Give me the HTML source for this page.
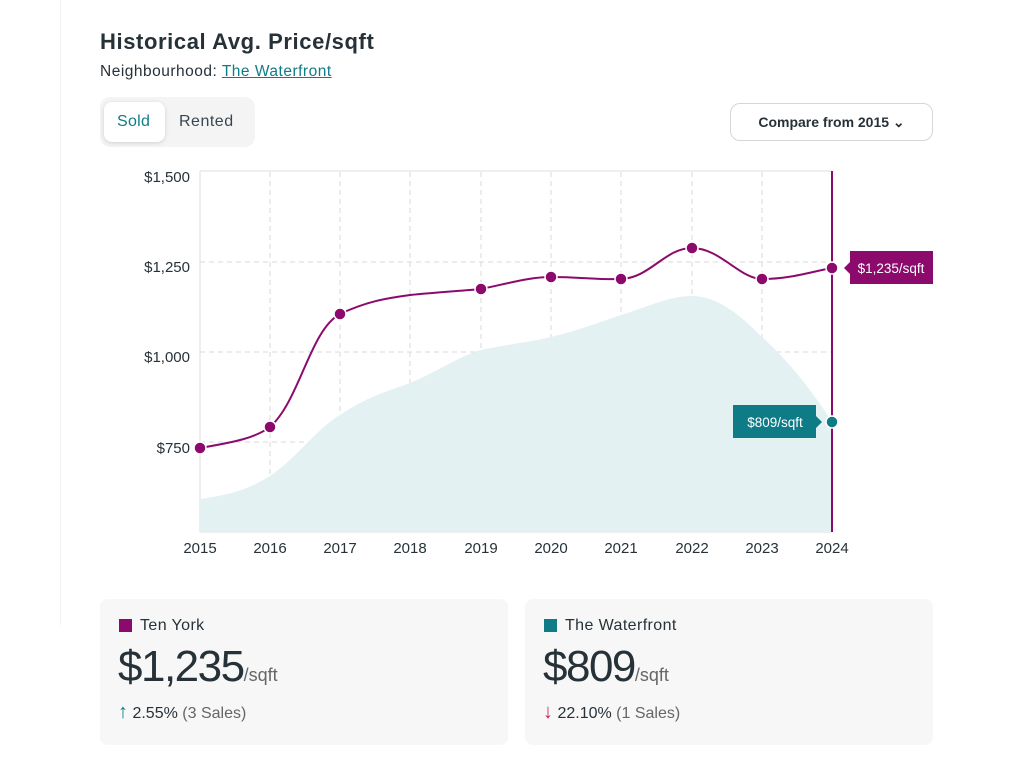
<!DOCTYPE html>
<html><head><meta charset="utf-8"><style>
body{margin:0;width:1024px;height:768px;background:#fff;font-family:"Liberation Sans",sans-serif;color:#263238;position:relative;overflow:hidden}
.a{position:absolute}
.card{position:absolute;top:599px;height:146px;background:#f7f7f7;border-radius:8px}
</style></head><body>
<div class="a" style="left:60px;top:0;width:1px;height:625px;background:#f2f2f2"></div>
<div class="a" style="left:100px;top:29px;font-size:22px;font-weight:bold;color:#263238;letter-spacing:0.6px">Historical Avg. Price/sqft</div>
<div class="a" style="left:100px;top:63px;font-size:15.5px;letter-spacing:0.5px">Neighbourhood: <span style="color:#0e7c86;text-decoration:underline">The Waterfront</span></div>
<div class="a" style="left:100px;top:97px;width:155px;height:50px;background:#f4f4f4;border-radius:10px"></div>
<div class="a" style="left:104px;top:102px;width:61px;height:40px;background:#fff;border-radius:8px;box-shadow:0 1px 4px rgba(0,0,0,.15)"></div>
<div class="a" style="left:117px;top:113px;font-size:16px;color:#0e7c86;letter-spacing:0.3px">Sold</div>
<div class="a" style="left:179px;top:113px;font-size:16px;color:#37474f;letter-spacing:0.5px">Rented</div>
<div class="a" style="left:730px;top:103px;width:201px;height:36px;border:1px solid #d6d6d6;border-radius:10px;font-size:14px;font-weight:bold;line-height:36px;text-align:center;color:#263238">Compare from 2015 &#8964;</div>
<svg class="a" style="left:0;top:0" width="1024" height="600">
<g stroke="#d8d8d8" stroke-dasharray="5,4" stroke-width="1">
<line x1="200" y1="262" x2="832" y2="262"/><line x1="200" y1="352" x2="832" y2="352"/><line x1="200" y1="442" x2="832" y2="442"/>
<line x1="270" y1="172" x2="270" y2="532"/><line x1="340" y1="172" x2="340" y2="532"/><line x1="410" y1="172" x2="410" y2="532"/><line x1="481" y1="172" x2="481" y2="532"/><line x1="551" y1="172" x2="551" y2="532"/><line x1="621" y1="172" x2="621" y2="532"/><line x1="692" y1="172" x2="692" y2="532"/><line x1="762" y1="172" x2="762" y2="532"/>
</g>
<line x1="200" y1="171" x2="832" y2="171" stroke="#ddd"/>
<line x1="200" y1="171" x2="200" y2="532" stroke="#ddd"/>
<line x1="200" y1="532" x2="832" y2="532" stroke="#ddd"/>
<path d="M200,499 C235,494 250,488 270,476 C300,455 315,430 340,415 C365,398 385,392 410,383 C440,370 460,356 481,350 C510,344 530,342 551,337 C580,330 600,322 621,315 C650,306 670,296 692,296 C720,296 745,320 762,337 C790,362 815,395 832,422 L832,532 L200,532 Z" fill="#e4f1f2"/>
<line x1="832" y1="171" x2="832" y2="532" stroke="#8b0a6b" stroke-width="2"/>
<path d="M200,448 C235,442 255,438 270,427 C300,400 310,330 340,314 C370,300 390,298 410,295 C440,292 460,291 481,289 C510,283 530,277 551,277 C580,277 600,280 621,279 C650,278 665,248 692,248 C720,248 740,279 762,279 C790,279 810,272 832,268" fill="none" stroke="#8b0a6b" stroke-width="2"/>
<g fill="#8b0a6b" stroke="#fff" stroke-width="1.5">
<circle cx="200" cy="448" r="6"/><circle cx="270" cy="427" r="6"/><circle cx="340" cy="314" r="6"/><circle cx="481" cy="289" r="6"/><circle cx="551" cy="277" r="6"/><circle cx="621" cy="279" r="6"/><circle cx="692" cy="248" r="6"/><circle cx="762" cy="279" r="6"/><circle cx="832" cy="268" r="6"/>
</g>
<circle cx="832" cy="422" r="6" fill="#0e7c86" stroke="#fff" stroke-width="1.5"/>
<path d="M850,251 H933 V284 H850 V274 L844,268 L850,262 Z" fill="#8b0a6b"/>
<text x="891" y="273" font-size="13.5" fill="#fff" text-anchor="middle" font-family="Liberation Sans">$1,235/sqft</text>
<path d="M733,405 H816 V416 L822,422 L816,428 V438 H733 Z" fill="#0e7c86"/>
<text x="775" y="427" font-size="13.5" fill="#fff" text-anchor="middle" font-family="Liberation Sans">$809/sqft</text>
<g font-size="15" fill="#263238" text-anchor="end" font-family="Liberation Sans">
<text x="190" y="182">$1,500</text><text x="190" y="272">$1,250</text><text x="190" y="362">$1,000</text><text x="190" y="453">$750</text>
</g>
<g font-size="15" fill="#263238" text-anchor="middle" font-family="Liberation Sans">
<text x="200" y="553">2015</text><text x="270" y="553">2016</text><text x="340" y="553">2017</text><text x="410" y="553">2018</text><text x="481" y="553">2019</text><text x="551" y="553">2020</text><text x="621" y="553">2021</text><text x="692" y="553">2022</text><text x="762" y="553">2023</text><text x="832" y="553">2024</text>
</g>
</svg>
<div class="card" style="left:100px;width:408px">
<div class="a" style="left:19px;top:20px;width:13px;height:13px;background:#8b0a6b"></div>
<div class="a" style="left:40px;top:18px;font-size:16px;letter-spacing:0.4px">Ten York</div>
<div class="a" style="left:18px;top:43px;font-size:44px;letter-spacing:-1.5px">$1,235<span style="font-size:18px;color:#666;letter-spacing:0">/sqft</span></div>
<div class="a" style="left:18px;top:102px;font-size:16px"><span style="color:#0e7c86;font-size:20px">&#8593;</span> 2.55% <span style="color:#666">(3 Sales)</span></div>
</div>
<div class="card" style="left:525px;width:408px">
<div class="a" style="left:19px;top:20px;width:13px;height:13px;background:#0e7c86"></div>
<div class="a" style="left:40px;top:18px;font-size:16px;letter-spacing:0.4px">The Waterfront</div>
<div class="a" style="left:18px;top:43px;font-size:44px;letter-spacing:-1.5px">$809<span style="font-size:18px;color:#666;letter-spacing:0">/sqft</span></div>
<div class="a" style="left:18px;top:102px;font-size:16px"><span style="color:#d81b60;font-size:20px">&#8595;</span> 22.10% <span style="color:#666">(1 Sales)</span></div>
</div>
</body></html>
